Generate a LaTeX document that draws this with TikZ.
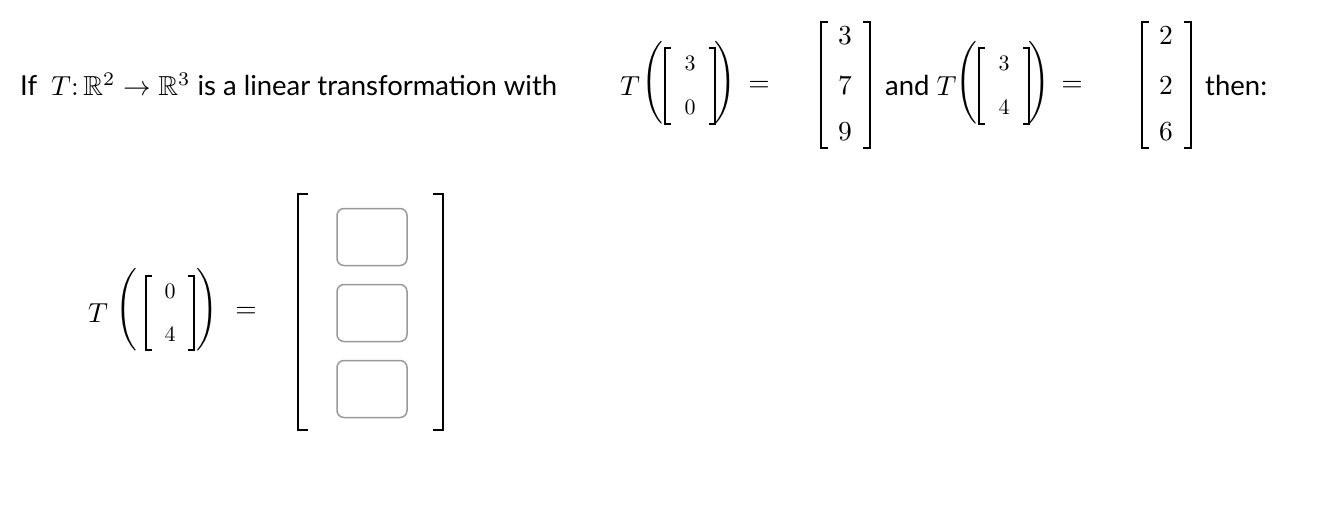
\documentclass[tikz,border=0pt]{standalone}
\usepackage{amssymb}
\usepackage{graphicx}
\usepackage{fontspec}
\setmainfont{Lato}
\newcommand{\bigS}[1]{\scalebox{2.75}{#1}}
\newcommand{\smS}[1]{\scalebox{2.2}{#1}}
\begin{document}
\begin{tikzpicture}[x=1pt,y=-1pt,
  txt/.style={inner sep=0pt,anchor=base west,font=\fontsize{10}{12}\selectfont},
  dig/.style={inner sep=0pt},
  brk/.style={line width=1.6pt},
  ansbox/.style={draw=gray!80,line width=1.5pt,rounded corners=7pt,minimum width=70pt,minimum height=57pt,inner sep=0pt}]
\useasboundingbox (0,0) rectangle (1318,506);
% line 1
\node[txt] (t1) at (20,95) {\bigS{If\ \ $T\colon\mathbb{R}^2\to\mathbb{R}^3$ is a linear transformation with}};
\node[txt] (T1) at (620,95) {\bigS{$T$}};
\node[dig] (p1l) at (654,85) {\bigS{$\left(\vrule height 14pt depth 14pt width0pt\right.$}};
\node[dig] (p1r) at (724,85) {\bigS{$\left.\vrule height 14pt depth 14pt width0pt\right)$}};
\draw[brk] (671,48) -- (665,48) -- (665,124) -- (671,124);
\draw[brk] (709,48) -- (715,48) -- (715,124) -- (709,124);
\node[dig] (a1) at (690,63) {\smS{$3$}};
\node[dig] (a2) at (690,107) {\smS{$0$}};
\node[dig] (eq1) at (759,86) {\bigS{$=$}};
\draw[brk] (828,22) -- (821,22) -- (821,148) -- (828,148);
\draw[brk] (863,22) -- (870,22) -- (870,148) -- (863,148);
\node[dig] (b1) at (845,36) {\bigS{$3$}};
\node[dig] (b2) at (845,86) {\bigS{$7$}};
\node[dig] (b3) at (845,132) {\bigS{$9$}};
\node[txt] (and) at (885,95) {\bigS{and\ $T$}};
\node[dig] (p2l) at (968,85) {\bigS{$\left(\vrule height 14pt depth 14pt width0pt\right.$}};
\node[dig] (p2r) at (1038,85) {\bigS{$\left.\vrule height 14pt depth 14pt width0pt\right)$}};
\draw[brk] (985,48) -- (979,48) -- (979,124) -- (985,124);
\draw[brk] (1023,48) -- (1029,48) -- (1029,124) -- (1023,124);
\node[dig] (c1) at (1004,63) {\smS{$3$}};
\node[dig] (c2) at (1004,107) {\smS{$4$}};
\node[dig] (eq2) at (1072,86) {\bigS{$=$}};
\draw[brk] (1149,22) -- (1142,22) -- (1142,148) -- (1149,148);
\draw[brk] (1184,22) -- (1191,22) -- (1191,148) -- (1184,148);
\node[dig] (d1) at (1166,36) {\bigS{$2$}};
\node[dig] (d2) at (1166,86) {\bigS{$2$}};
\node[dig] (d3) at (1166,132) {\bigS{$6$}};
\node[txt] (then) at (1205,95) {\bigS{then:}};
% line 2
\node[txt] (T2) at (88,322) {\bigS{$T$}};
\node[dig] (p3l) at (128,312) {\bigS{$\left(\vrule height 14pt depth 14pt width0pt\right.$}};
\node[dig] (p3r) at (206,312) {\bigS{$\left.\vrule height 14pt depth 14pt width0pt\right)$}};
\draw[brk] (152,276) -- (146,276) -- (146,350) -- (152,350);
\draw[brk] (188,276) -- (194,276) -- (194,350) -- (188,350);
\node[dig] (e1) at (170,291) {\smS{$0$}};
\node[dig] (e2) at (170,334) {\smS{$4$}};
\node[dig] (eq3) at (246,312) {\bigS{$=$}};
\draw[brk] (308,194) -- (298,194) -- (298,430) -- (308,430);
\draw[brk] (433,194) -- (443,194) -- (443,430) -- (433,430);
\node[ansbox] (x1) at (372,237) {};
\node[ansbox] (x2) at (372,313) {};
\node[ansbox] (x3) at (372,389) {};
\end{tikzpicture}
\end{document}
